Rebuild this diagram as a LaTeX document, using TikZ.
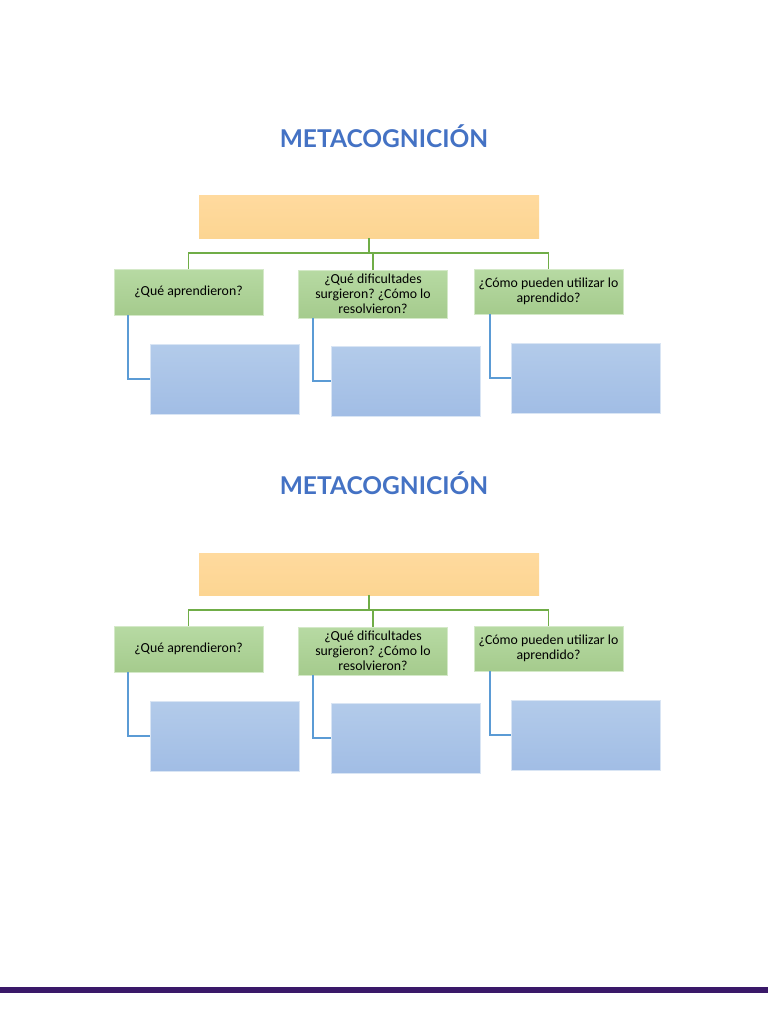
\documentclass[tikz,border=0pt]{standalone}
\usepackage{fontspec}
\setmainfont{Carlito}
\newfontfamily\titlefont{Lato}
\usetikzlibrary{positioning}
\frenchspacing
\definecolor{titlec}{HTML}{4472C4}
\definecolor{orangetop}{HTML}{FFDA9E}
\definecolor{orangebot}{HTML}{FCD592}
\definecolor{greentop}{HTML}{B7DAA3}
\definecolor{greenbot}{HTML}{A5CB8D}
\definecolor{bluetop}{HTML}{B3CBEA}
\definecolor{bluebot}{HTML}{A1BDE5}
\definecolor{gline}{HTML}{70AD47}
\definecolor{bline}{HTML}{5B9BD5}
\definecolor{barc}{HTML}{3A1868}
\tikzset{
  ttl/.style={font=\titlefont\bfseries\fontsize{24.5}{29}\selectfont,text=titlec},
  topbox/.style={top color=orangetop,bottom color=orangebot,minimum width=340,minimum height=42,inner sep=0pt},
  qbox/.style={top color=greentop,bottom color=greenbot,draw=greentop!60!white,line width=0.6pt,minimum width=149,minimum height=46,inner sep=0pt,align=center,font=\fontsize{13.8}{15}\selectfont},
  abox/.style={top color=bluetop,bottom color=bluebot,draw=bluetop!50!white,line width=0.6pt,minimum width=149,minimum height=70,inner sep=0pt},
  gcon/.style={gline,line width=1.6pt},
  bcon/.style={bline,line width=1.6pt}
}
\begin{document}
\begin{tikzpicture}[x=1pt,y=-1pt]
\useasboundingbox (0,0) rectangle (768,1024);
\fill[white] (0,0) rectangle (768,1024);
% titles
\node[ttl] (t1) at (384,136) {METACOGNICIÓN};
\node[ttl] (t2) at (384,483) {METACOGNICIÓN};
% two copies of the map
\foreach \dy/\k in {0/a,357/b}{
  \begin{scope}[yshift=-\dy]
  \node[topbox] (top\k) at (369,217) {};
  \node[qbox] (q1\k) at (188.5,292) {¿Qué aprendieron?};
  \node[qbox,minimum height=48] (q2\k) at (373,294) {¿Qué dificultades\\surgieron? ¿Cómo lo\\resolvieron?};
  \node[qbox,minimum height=45] (q3\k) at (548.5,291.5) {¿Cómo pueden utilizar lo\\aprendido?};
  \node[abox] (r1\k) at (224.5,379) {};
  \node[abox] (r2\k) at (405.5,381) {};
  \node[abox] (r3\k) at (585.5,378) {};
  % green links
  \draw[gcon] (top\k.south) -- ++(0,15) coordinate (j\k);
  \draw[gcon] (j\k) -| (q1\k.north);
  \draw[gcon] (j\k) -| (q2\k.north);
  \draw[gcon] (j\k) -| (q3\k.north);
  % blue links
  \draw[bcon] ([xshift=14]q1\k.south west) |- (r1\k.west);
  \draw[bcon] ([xshift=15]q2\k.south west) |- (r2\k.west);
  \draw[bcon] ([xshift=16]q3\k.south west) |- (r3\k.west);
  \end{scope}
}
% bottom bar
\fill[barc] (0,987) rectangle (768,993);
\end{tikzpicture}
\end{document}
